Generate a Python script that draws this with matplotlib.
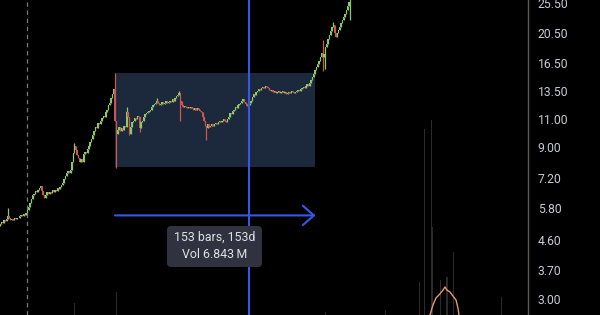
import matplotlib
matplotlib.use("Agg")
import matplotlib.pyplot as plt
from matplotlib.patches import FancyBboxPatch
from matplotlib.transforms import IdentityTransform
from matplotlib.ticker import NullLocator

plt.rcParams['font.family'] = ['Roboto', 'DejaVu Sans']

# daily closes (open = previous close)
first_open = 5.10
closes_before = [5.15, 5.22, 5.18, 5.30, 5.26, 5.34, 5.45, 5.40, 5.32, 5.36, 5.30,
                 5.38, 5.34, 5.40, 5.37, 5.45, 5.50, 5.46, 5.55, 5.52, 5.60,
                 5.72, 5.85, 6.00, 6.18, 6.35, 6.42, 6.55, 6.48, 6.60, 6.70,
                 6.80, 6.55, 6.35, 6.22,
                 6.35, 6.48, 6.40, 6.52, 6.46, 6.58, 6.50, 6.62, 6.56, 6.68, 6.64, 6.75, 6.82,
                 6.95, 7.15, 7.30, 7.45, 7.55, 7.48, 7.65, 8.10,
                 8.60, 9.10, 8.80, 8.50, 8.30, 8.05, 8.25, 8.10,
                 8.55, 8.70, 8.60, 8.90, 9.10, 9.35, 9.55, 9.80,
                 10.10, 10.40, 10.30, 10.70,
                 10.60, 10.90, 11.10, 11.30, 11.20, 11.60, 11.80, 12.20, 12.40, 12.80, 13.20, 13.70]
closes_inside = [10.90, 9.90,
                 10.20, 10.40, 10.10, 10.30, 10.20, 10.50, 10.40, 11.60, 11.20, 9.90,
                 10.40, 10.80, 10.90, 11.10, 11.00, 11.30, 11.20, 10.30,
                 10.80, 10.90, 11.20, 11.40, 11.50, 11.60, 11.70, 11.80, 12.00, 12.20, 12.30, 12.40, 12.60,
                 12.40, 12.20, 12.30, 12.50, 12.30, 12.40, 12.60, 12.40, 12.50, 12.60, 12.50, 12.70,
                 12.60, 12.80, 13.00, 13.10, 13.30,
                 12.60, 12.20, 12.00, 12.10, 12.00, 11.90, 12.00, 11.90, 12.00, 11.90, 11.80, 11.90,
                 11.80, 11.90, 11.80, 11.70,
                 11.60, 11.20, 10.90, 10.50, 10.30, 10.60, 10.40, 10.50, 10.60, 10.50, 10.60, 10.70,
                 10.60, 10.80, 10.90,
                 10.80, 10.90, 11.00, 10.90, 10.80, 11.00, 11.20, 11.50, 11.40, 11.70, 11.80, 12.00,
                 11.90, 12.20, 12.30, 12.40, 12.60, 12.70, 12.50, 12.30, 12.10, 12.20, 12.40, 12.60,
                 12.90, 13.20, 13.10, 13.40, 13.50, 13.70, 13.60, 13.80, 13.90, 13.80, 14.00, 13.90, 13.80,
                 13.60, 13.50, 13.60, 13.40, 13.50, 13.30, 13.40, 13.50, 13.30, 13.40, 13.50, 13.30,
                 13.40, 13.20, 13.30, 13.40, 13.30, 13.50, 13.40, 13.30, 13.40, 13.50, 13.60, 13.50,
                 13.70, 13.80, 13.90, 13.80, 14.00, 14.20, 14.00, 14.30, 14.60, 14.90, 15.30]
closes_after = [15.70, 16.00, 16.40, 16.80, 17.30, 17.80,
                17.20, 17.60, 18.50, 19.00, 19.60, 20.20, 20.80, 21.40, 21.80, 20.50, 20.00,
                20.60, 21.00, 21.50, 22.00, 22.60, 23.00, 23.60, 24.30, 25.00, 25.60,
                26.80, 27.50, 28.30]

# notable wicks
wick_high_bars = [6, 57, 88, 97, 120, 137, 247, 255]
wick_high_vals = [5.80, 9.30, 15.40, 12.00, 12.80, 13.50, 19.50, 22.20]
wick_low_bars = [89, 99, 107, 138, 158, 247, 249, 268]
wick_low_vals = [7.75, 9.80, 10.00, 10.90, 9.50, 15.60, 15.80, 22.60]

# volume (relative units) and the orange indicator line
vol_bars = [57, 89, 249, 295, 321, 325, 330, 331, 337, 342, 347, 384]
vol_vals = [3.8, 7.3, 1.0, 1.6, 10.5, 59.0, 62.0, 28.0, 11.0, 12.0, 20.0, 5.7]
ind_bars = [329.0, 331.3, 333.6, 336.6, 338.9, 340.5, 342.0, 344.3, 346.6, 348.9, 350.4, 351.2]
ind_vals = [0.0, 3.2, 5.4, 6.7, 7.9, 8.9, 7.9, 7.3, 6.0, 4.8, 2.2, 0.0]

price_ticks = [3.00, 3.70, 4.60, 5.80, 7.20, 9.00, 11.00, 13.50, 16.50, 20.50, 25.50]
box_label = ["153 bars, 153d", "Vol 6.843\u2009M"]

closes = closes_before + closes_inside + closes_after
opens = [first_open] + closes[:-1]
body_top = [max(o, c) for o, c in zip(opens, closes)]
body_bot = [min(o, c) for o, c in zip(opens, closes)]
highs = list(body_top)
lows = list(body_bot)
for b, v in zip(wick_high_bars, wick_high_vals):
    highs[b] = v
for b, v in zip(wick_low_bars, wick_low_vals):
    lows[b] = v
idx = list(range(len(closes)))
green, red = '#8cc86c', '#cc5650'
colors = [green if c >= o else red for o, c in zip(opens, closes)]
blue = '#3558ea'

fig = plt.figure(figsize=(6, 3.15), dpi=100, facecolor='black')
rect = [0, 0, 528 / 600, 1]

axv = fig.add_axes(rect)
axv.set_facecolor('black')
axv.bar(vol_bars, vol_vals, width=0.9, color='#2a2a2a', linewidth=0)
axv.plot(ind_bars, ind_vals, color='#e39a74', lw=1.0)
axv.set_xlim(0, 404)
axv.set_ylim(0, 100)
axv.axis('off')

ax = fig.add_axes(rect)
ax.set_zorder(2)
ax.patch.set_alpha(0)
ax.set_yscale('log')
ax.set_xlim(0, 404)
ax.set_ylim(2.672, 26.06)

ax.fill_between([88, 241], 7.78, 15.38, color='#1c283b', lw=0, zorder=0.5)
ax.axvline(20.7, color='#7a7a7a', lw=0.9, ls=(0, (3.5, 3)), zorder=1)

ax.vlines(idx, lows, highs, colors=colors, lw=0.9, zorder=2)
ax.bar(idx, [t - b for t, b in zip(body_top, body_bot)], bottom=body_bot,
       width=1.05, color=colors, linewidth=0, zorder=2)

ax.axvline(190.5, color=blue, lw=1.5, zorder=3)
ax.annotate('', xy=(241.4, 5.49), xytext=(88, 5.49),
            arrowprops=dict(arrowstyle='->,head_length=0.8,head_width=0.7',
                            color=blue, lw=1.5, shrinkA=0, shrinkB=0))

ax.yaxis.tick_right()
ax.set_yticks(price_ticks)
ax.set_yticklabels([f'{v:.2f}' for v in price_ticks])
ax.yaxis.set_minor_locator(NullLocator())
ax.tick_params(axis='y', length=0, pad=7, labelsize=8.7, labelcolor='#c9cbd1')
ax.set_xticks([])
for side in ['top', 'left', 'bottom']:
    ax.spines[side].set_visible(False)
ax.spines['right'].set_color('#5b5b5b')
ax.spines['right'].set_linewidth(1)

tip = FancyBboxPatch((167, 48), 95, 41, boxstyle='round,pad=0,rounding_size=4',
                     transform=IdentityTransform(), fc='#30333f', ec='none', zorder=5)
fig.add_artist(tip)
fig.text(214.5 / 600, 1 - 237 / 315, box_label[0], ha='center', va='center',
         color='#dfe1e6', fontsize=8.9, zorder=6)
fig.text(214.5 / 600, 1 - 255 / 315, box_label[1], ha='center', va='center',
         color='#dfe1e6', fontsize=8.9, zorder=6)

fig.savefig('out.png', dpi=100, facecolor='black')
